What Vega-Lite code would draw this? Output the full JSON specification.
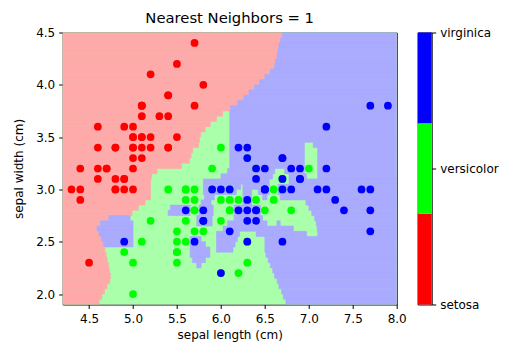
{
  "$schema": "https://vega.github.io/schema/vega-lite/v6.json",
  "padding": {"left": 11.7, "top": 10.5, "right": 5, "bottom": 5},
  "background": "white",
  "bounds": "flush",
  "spacing": 21,
  "config": {
    "font": "DejaVu Sans",
    "view": {"stroke": "#000000", "strokeWidth": 1},
    "axis": {"domain": false, "grid": false, "tickColor": "#000000", "tickSize": 4, "tickWidth": 1,
      "labelFont": "DejaVu Sans", "labelFontSize": 12, "labelColor": "#000000", "labelPadding": 4,
      "labelFlush": false, "labelOverlap": false,
      "titleFont": "DejaVu Sans", "titleFontSize": 12, "titleFontWeight": "normal", "titleColor": "#000000"},
    "title": {"font": "DejaVu Sans", "fontSize": 14.8, "fontWeight": "normal", "color": "#000000"}
  },
  "datasets": {
    "regions": [
      {"x1": 4.2, "x2": 8.0, "y1": 1.9, "y2": 4.5, "cls": "versicolor"},
      {"x1": 4.2, "x2": 6.70, "y1": 4.45, "y2": 4.50, "cls": "setosa"},
      {"x1": 6.70, "x2": 8.0, "y1": 4.45, "y2": 4.50, "cls": "virginica"},
      {"x1": 4.2, "x2": 6.68, "y1": 4.40, "y2": 4.45, "cls": "setosa"},
      {"x1": 6.68, "x2": 8.0, "y1": 4.40, "y2": 4.45, "cls": "virginica"},
      {"x1": 4.2, "x2": 6.66, "y1": 4.35, "y2": 4.40, "cls": "setosa"},
      {"x1": 6.66, "x2": 8.0, "y1": 4.35, "y2": 4.40, "cls": "virginica"},
      {"x1": 4.2, "x2": 6.65, "y1": 4.30, "y2": 4.35, "cls": "setosa"},
      {"x1": 6.65, "x2": 8.0, "y1": 4.30, "y2": 4.35, "cls": "virginica"},
      {"x1": 4.2, "x2": 6.64, "y1": 4.25, "y2": 4.30, "cls": "setosa"},
      {"x1": 6.64, "x2": 8.0, "y1": 4.25, "y2": 4.30, "cls": "virginica"},
      {"x1": 4.2, "x2": 6.62, "y1": 4.20, "y2": 4.25, "cls": "setosa"},
      {"x1": 6.62, "x2": 8.0, "y1": 4.20, "y2": 4.25, "cls": "virginica"},
      {"x1": 4.2, "x2": 6.61, "y1": 4.15, "y2": 4.20, "cls": "setosa"},
      {"x1": 6.61, "x2": 8.0, "y1": 4.15, "y2": 4.20, "cls": "virginica"},
      {"x1": 4.2, "x2": 6.56, "y1": 4.10, "y2": 4.15, "cls": "setosa"},
      {"x1": 6.56, "x2": 8.0, "y1": 4.10, "y2": 4.15, "cls": "virginica"},
      {"x1": 4.2, "x2": 6.50, "y1": 4.05, "y2": 4.10, "cls": "setosa"},
      {"x1": 6.50, "x2": 8.0, "y1": 4.05, "y2": 4.10, "cls": "virginica"},
      {"x1": 4.2, "x2": 6.44, "y1": 4.00, "y2": 4.05, "cls": "setosa"},
      {"x1": 6.44, "x2": 8.0, "y1": 4.00, "y2": 4.05, "cls": "virginica"},
      {"x1": 4.2, "x2": 6.38, "y1": 3.95, "y2": 4.00, "cls": "setosa"},
      {"x1": 6.38, "x2": 8.0, "y1": 3.95, "y2": 4.00, "cls": "virginica"},
      {"x1": 4.2, "x2": 6.32, "y1": 3.90, "y2": 3.95, "cls": "setosa"},
      {"x1": 6.32, "x2": 8.0, "y1": 3.90, "y2": 3.95, "cls": "virginica"},
      {"x1": 4.2, "x2": 6.26, "y1": 3.85, "y2": 3.90, "cls": "setosa"},
      {"x1": 6.26, "x2": 8.0, "y1": 3.85, "y2": 3.90, "cls": "virginica"},
      {"x1": 4.2, "x2": 6.19, "y1": 3.80, "y2": 3.85, "cls": "setosa"},
      {"x1": 6.19, "x2": 8.0, "y1": 3.80, "y2": 3.85, "cls": "virginica"},
      {"x1": 4.2, "x2": 6.11, "y1": 3.75, "y2": 3.80, "cls": "setosa"},
      {"x1": 6.11, "x2": 8.0, "y1": 3.75, "y2": 3.80, "cls": "virginica"},
      {"x1": 4.2, "x2": 6.02, "y1": 3.70, "y2": 3.75, "cls": "setosa"},
      {"x1": 4.2, "x2": 5.95, "y1": 3.65, "y2": 3.70, "cls": "setosa"},
      {"x1": 4.2, "x2": 5.88, "y1": 3.60, "y2": 3.65, "cls": "setosa"},
      {"x1": 4.2, "x2": 5.82, "y1": 3.55, "y2": 3.60, "cls": "setosa"},
      {"x1": 4.2, "x2": 5.77, "y1": 3.50, "y2": 3.55, "cls": "setosa"},
      {"x1": 4.2, "x2": 5.755, "y1": 3.45, "y2": 3.50, "cls": "setosa"},
      {"x1": 6.10, "x2": 8.0, "y1": 3.45, "y2": 3.75, "cls": "virginica"},
      {"x1": 4.2, "x2": 5.745, "y1": 3.40, "y2": 3.45, "cls": "setosa"},
      {"x1": 4.2, "x2": 5.68, "y1": 3.35, "y2": 3.40, "cls": "setosa"},
      {"x1": 4.2, "x2": 5.66, "y1": 3.30, "y2": 3.35, "cls": "setosa"},
      {"x1": 4.2, "x2": 5.64, "y1": 3.25, "y2": 3.30, "cls": "setosa"},
      {"x1": 4.2, "x2": 5.55, "y1": 3.20, "y2": 3.25, "cls": "setosa"},
      {"x1": 6.10, "x2": 6.95, "y1": 3.20, "y2": 3.45, "cls": "virginica"},
      {"x1": 7.05, "x2": 8.0, "y1": 3.40, "y2": 3.45, "cls": "virginica"},
      {"x1": 7.10, "x2": 8.0, "y1": 3.10, "y2": 3.40, "cls": "virginica"},
      {"x1": 4.2, "x2": 5.275, "y1": 3.15, "y2": 3.20, "cls": "setosa"},
      {"x1": 6.075, "x2": 6.6125, "y1": 3.15, "y2": 3.20, "cls": "virginica"},
      {"x1": 6.725, "x2": 6.95, "y1": 3.15, "y2": 3.20, "cls": "virginica"},
      {"x1": 4.2, "x2": 5.21, "y1": 3.10, "y2": 3.15, "cls": "setosa"},
      {"x1": 6.0, "x2": 6.5875, "y1": 3.10, "y2": 3.15, "cls": "virginica"},
      {"x1": 6.775, "x2": 6.975, "y1": 3.10, "y2": 3.15, "cls": "virginica"},
      {"x1": 4.2, "x2": 5.2, "y1": 2.90, "y2": 3.10, "cls": "setosa"},
      {"x1": 5.8, "x2": 6.55, "y1": 3.05, "y2": 3.10, "cls": "virginica"},
      {"x1": 6.775, "x2": 8.0, "y1": 3.05, "y2": 3.10, "cls": "virginica"},
      {"x1": 5.8, "x2": 6.225, "y1": 3.00, "y2": 3.05, "cls": "virginica"},
      {"x1": 6.25, "x2": 6.55, "y1": 3.00, "y2": 3.05, "cls": "virginica"},
      {"x1": 6.65, "x2": 8.0, "y1": 2.95, "y2": 3.05, "cls": "virginica"},
      {"x1": 5.8, "x2": 6.175, "y1": 2.95, "y2": 3.00, "cls": "virginica"},
      {"x1": 6.25, "x2": 6.35, "y1": 2.85, "y2": 3.00, "cls": "virginica"},
      {"x1": 6.425, "x2": 6.55, "y1": 2.95, "y2": 3.00, "cls": "virginica"},
      {"x1": 5.8125, "x2": 5.925, "y1": 2.90, "y2": 2.95, "cls": "virginica"},
      {"x1": 6.475, "x2": 6.525, "y1": 2.90, "y2": 2.95, "cls": "virginica"},
      {"x1": 6.675, "x2": 8.0, "y1": 2.90, "y2": 2.95, "cls": "virginica"},
      {"x1": 4.2, "x2": 5.1375, "y1": 2.85, "y2": 2.90, "cls": "setosa"},
      {"x1": 5.775, "x2": 5.8875, "y1": 2.85, "y2": 2.90, "cls": "virginica"},
      {"x1": 6.967, "x2": 8.0, "y1": 2.85, "y2": 2.90, "cls": "virginica"},
      {"x1": 4.2, "x2": 5.06, "y1": 2.80, "y2": 2.85, "cls": "setosa"},
      {"x1": 5.425, "x2": 5.65, "y1": 2.80, "y2": 2.85, "cls": "virginica"},
      {"x1": 7.0, "x2": 8.0, "y1": 2.80, "y2": 2.85, "cls": "virginica"},
      {"x1": 5.75, "x2": 5.9125, "y1": 2.75, "y2": 2.85, "cls": "virginica"},
      {"x1": 6.15, "x2": 6.45, "y1": 2.75, "y2": 2.85, "cls": "virginica"},
      {"x1": 4.2, "x2": 4.99, "y1": 2.75, "y2": 2.80, "cls": "setosa"},
      {"x1": 5.40, "x2": 5.65, "y1": 2.75, "y2": 2.80, "cls": "virginica"},
      {"x1": 7.033, "x2": 8.0, "y1": 2.75, "y2": 2.80, "cls": "virginica"},
      {"x1": 4.2, "x2": 4.725, "y1": 2.70, "y2": 2.75, "cls": "setosa"},
      {"x1": 4.725, "x2": 4.967, "y1": 2.70, "y2": 2.75, "cls": "virginica"},
      {"x1": 5.725, "x2": 5.9, "y1": 2.65, "y2": 2.75, "cls": "virginica"},
      {"x1": 6.15, "x2": 6.475, "y1": 2.70, "y2": 2.75, "cls": "virginica"},
      {"x1": 7.067, "x2": 8.0, "y1": 2.70, "y2": 2.75, "cls": "virginica"},
      {"x1": 4.2, "x2": 4.63, "y1": 2.65, "y2": 2.70, "cls": "setosa"},
      {"x1": 4.63, "x2": 5.0, "y1": 2.65, "y2": 2.70, "cls": "virginica"},
      {"x1": 6.075, "x2": 6.525, "y1": 2.65, "y2": 2.70, "cls": "virginica"},
      {"x1": 6.6375, "x2": 6.675, "y1": 2.65, "y2": 2.70, "cls": "virginica"},
      {"x1": 7.085, "x2": 8.0, "y1": 2.65, "y2": 2.70, "cls": "virginica"},
      {"x1": 4.2, "x2": 4.59, "y1": 2.60, "y2": 2.65, "cls": "setosa"},
      {"x1": 4.59, "x2": 5.0, "y1": 2.60, "y2": 2.65, "cls": "virginica"},
      {"x1": 6.025, "x2": 6.825, "y1": 2.60, "y2": 2.65, "cls": "virginica"},
      {"x1": 7.095, "x2": 8.0, "y1": 2.60, "y2": 2.65, "cls": "virginica"},
      {"x1": 4.2, "x2": 4.6125, "y1": 2.55, "y2": 2.60, "cls": "setosa"},
      {"x1": 4.6125, "x2": 5.0, "y1": 2.55, "y2": 2.60, "cls": "virginica"},
      {"x1": 5.95, "x2": 6.2125, "y1": 2.55, "y2": 2.60, "cls": "virginica"},
      {"x1": 6.40, "x2": 6.975, "y1": 2.55, "y2": 2.60, "cls": "virginica"},
      {"x1": 7.10, "x2": 8.0, "y1": 2.55, "y2": 2.60, "cls": "virginica"},
      {"x1": 4.2, "x2": 4.6375, "y1": 2.50, "y2": 2.55, "cls": "setosa"},
      {"x1": 4.6375, "x2": 5.0, "y1": 2.50, "y2": 2.55, "cls": "virginica"},
      {"x1": 5.65, "x2": 5.775, "y1": 2.50, "y2": 2.55, "cls": "virginica"},
      {"x1": 5.95, "x2": 6.1875, "y1": 2.50, "y2": 2.55, "cls": "virginica"},
      {"x1": 6.5, "x2": 8.0, "y1": 2.40, "y2": 2.55, "cls": "virginica"},
      {"x1": 4.2, "x2": 4.6625, "y1": 2.45, "y2": 2.50, "cls": "setosa"},
      {"x1": 4.6625, "x2": 5.0, "y1": 2.45, "y2": 2.50, "cls": "virginica"},
      {"x1": 5.65, "x2": 5.825, "y1": 2.45, "y2": 2.50, "cls": "virginica"},
      {"x1": 5.95, "x2": 6.1625, "y1": 2.45, "y2": 2.50, "cls": "virginica"},
      {"x1": 4.2, "x2": 4.68, "y1": 2.40, "y2": 2.45, "cls": "setosa"},
      {"x1": 5.95, "x2": 6.1375, "y1": 2.40, "y2": 2.45, "cls": "virginica"},
      {"x1": 5.65, "x2": 5.875, "y1": 2.35, "y2": 2.45, "cls": "virginica"},
      {"x1": 4.2, "x2": 4.694, "y1": 2.35, "y2": 2.40, "cls": "setosa"},
      {"x1": 6.5125, "x2": 8.0, "y1": 2.35, "y2": 2.40, "cls": "virginica"},
      {"x1": 4.2, "x2": 4.706, "y1": 2.30, "y2": 2.35, "cls": "setosa"},
      {"x1": 5.675, "x2": 5.825, "y1": 2.30, "y2": 2.35, "cls": "virginica"},
      {"x1": 6.5375, "x2": 8.0, "y1": 2.30, "y2": 2.35, "cls": "virginica"},
      {"x1": 4.2, "x2": 4.72, "y1": 2.25, "y2": 2.30, "cls": "setosa"},
      {"x1": 5.725, "x2": 5.775, "y1": 2.25, "y2": 2.30, "cls": "virginica"},
      {"x1": 6.5625, "x2": 8.0, "y1": 2.25, "y2": 2.30, "cls": "virginica"},
      {"x1": 4.2, "x2": 4.73, "y1": 2.20, "y2": 2.25, "cls": "setosa"},
      {"x1": 6.59, "x2": 8.0, "y1": 2.20, "y2": 2.25, "cls": "virginica"},
      {"x1": 4.2, "x2": 4.744, "y1": 2.15, "y2": 2.20, "cls": "setosa"},
      {"x1": 6.61, "x2": 8.0, "y1": 2.15, "y2": 2.20, "cls": "virginica"},
      {"x1": 4.2, "x2": 4.735, "y1": 2.10, "y2": 2.15, "cls": "setosa"},
      {"x1": 6.64, "x2": 8.0, "y1": 2.10, "y2": 2.15, "cls": "virginica"},
      {"x1": 4.2, "x2": 4.705, "y1": 2.05, "y2": 2.10, "cls": "setosa"},
      {"x1": 6.66, "x2": 8.0, "y1": 2.05, "y2": 2.10, "cls": "virginica"},
      {"x1": 4.2, "x2": 4.675, "y1": 2.00, "y2": 2.05, "cls": "setosa"},
      {"x1": 6.69, "x2": 8.0, "y1": 2.00, "y2": 2.05, "cls": "virginica"},
      {"x1": 4.2, "x2": 4.645, "y1": 1.95, "y2": 2.00, "cls": "setosa"},
      {"x1": 6.71, "x2": 8.0, "y1": 1.95, "y2": 2.00, "cls": "virginica"},
      {"x1": 4.2, "x2": 4.615, "y1": 1.90, "y2": 1.95, "cls": "setosa"},
      {"x1": 6.74, "x2": 8.0, "y1": 1.90, "y2": 1.95, "cls": "virginica"}
    ],
    "iris": [
      {"sl": 5.1, "sw": 3.5, "cls": "setosa"}, {"sl": 4.9, "sw": 3.0, "cls": "setosa"}, {"sl": 4.7, "sw": 3.2, "cls": "setosa"}, {"sl": 4.6, "sw": 3.1, "cls": "setosa"}, {"sl": 5.0, "sw": 3.6, "cls": "setosa"},
      {"sl": 5.4, "sw": 3.9, "cls": "setosa"}, {"sl": 4.6, "sw": 3.4, "cls": "setosa"}, {"sl": 5.0, "sw": 3.4, "cls": "setosa"}, {"sl": 4.4, "sw": 2.9, "cls": "setosa"}, {"sl": 4.9, "sw": 3.1, "cls": "setosa"},
      {"sl": 5.4, "sw": 3.7, "cls": "setosa"}, {"sl": 4.8, "sw": 3.4, "cls": "setosa"}, {"sl": 4.8, "sw": 3.0, "cls": "setosa"}, {"sl": 4.3, "sw": 3.0, "cls": "setosa"}, {"sl": 5.8, "sw": 4.0, "cls": "setosa"},
      {"sl": 5.7, "sw": 4.4, "cls": "setosa"}, {"sl": 5.4, "sw": 3.9, "cls": "setosa"}, {"sl": 5.1, "sw": 3.5, "cls": "setosa"}, {"sl": 5.7, "sw": 3.8, "cls": "setosa"}, {"sl": 5.1, "sw": 3.8, "cls": "setosa"},
      {"sl": 5.4, "sw": 3.4, "cls": "setosa"}, {"sl": 5.1, "sw": 3.7, "cls": "setosa"}, {"sl": 4.6, "sw": 3.6, "cls": "setosa"}, {"sl": 5.1, "sw": 3.3, "cls": "setosa"}, {"sl": 4.8, "sw": 3.4, "cls": "setosa"},
      {"sl": 5.0, "sw": 3.0, "cls": "setosa"}, {"sl": 5.0, "sw": 3.4, "cls": "setosa"}, {"sl": 5.2, "sw": 3.5, "cls": "setosa"}, {"sl": 5.2, "sw": 3.4, "cls": "setosa"}, {"sl": 4.7, "sw": 3.2, "cls": "setosa"},
      {"sl": 4.8, "sw": 3.1, "cls": "setosa"}, {"sl": 5.4, "sw": 3.4, "cls": "setosa"}, {"sl": 5.2, "sw": 4.1, "cls": "setosa"}, {"sl": 5.5, "sw": 4.2, "cls": "setosa"}, {"sl": 4.9, "sw": 3.1, "cls": "setosa"},
      {"sl": 5.0, "sw": 3.2, "cls": "setosa"}, {"sl": 5.5, "sw": 3.5, "cls": "setosa"}, {"sl": 4.9, "sw": 3.6, "cls": "setosa"}, {"sl": 4.4, "sw": 3.0, "cls": "setosa"}, {"sl": 5.1, "sw": 3.4, "cls": "setosa"},
      {"sl": 5.0, "sw": 3.5, "cls": "setosa"}, {"sl": 4.5, "sw": 2.3, "cls": "setosa"}, {"sl": 4.4, "sw": 3.2, "cls": "setosa"}, {"sl": 5.0, "sw": 3.5, "cls": "setosa"}, {"sl": 5.1, "sw": 3.8, "cls": "setosa"},
      {"sl": 4.8, "sw": 3.0, "cls": "setosa"}, {"sl": 5.1, "sw": 3.8, "cls": "setosa"}, {"sl": 4.6, "sw": 3.2, "cls": "setosa"}, {"sl": 5.3, "sw": 3.7, "cls": "setosa"}, {"sl": 5.0, "sw": 3.3, "cls": "setosa"},
      {"sl": 7.0, "sw": 3.2, "cls": "versicolor"}, {"sl": 6.4, "sw": 3.2, "cls": "versicolor"}, {"sl": 6.9, "sw": 3.1, "cls": "versicolor"}, {"sl": 5.5, "sw": 2.3, "cls": "versicolor"}, {"sl": 6.5, "sw": 2.8, "cls": "versicolor"},
      {"sl": 5.7, "sw": 2.8, "cls": "versicolor"}, {"sl": 6.3, "sw": 3.3, "cls": "versicolor"}, {"sl": 4.9, "sw": 2.4, "cls": "versicolor"}, {"sl": 6.6, "sw": 2.9, "cls": "versicolor"}, {"sl": 5.2, "sw": 2.7, "cls": "versicolor"},
      {"sl": 5.0, "sw": 2.0, "cls": "versicolor"}, {"sl": 5.9, "sw": 3.0, "cls": "versicolor"}, {"sl": 6.0, "sw": 2.2, "cls": "versicolor"}, {"sl": 6.1, "sw": 2.9, "cls": "versicolor"}, {"sl": 5.6, "sw": 2.9, "cls": "versicolor"},
      {"sl": 6.7, "sw": 3.1, "cls": "versicolor"}, {"sl": 5.6, "sw": 3.0, "cls": "versicolor"}, {"sl": 5.8, "sw": 2.7, "cls": "versicolor"}, {"sl": 6.2, "sw": 2.2, "cls": "versicolor"}, {"sl": 5.6, "sw": 2.5, "cls": "versicolor"},
      {"sl": 5.9, "sw": 3.2, "cls": "versicolor"}, {"sl": 6.1, "sw": 2.8, "cls": "versicolor"}, {"sl": 6.3, "sw": 2.5, "cls": "versicolor"}, {"sl": 6.1, "sw": 2.8, "cls": "versicolor"}, {"sl": 6.4, "sw": 2.9, "cls": "versicolor"},
      {"sl": 6.6, "sw": 3.0, "cls": "versicolor"}, {"sl": 6.8, "sw": 2.8, "cls": "versicolor"}, {"sl": 6.7, "sw": 3.0, "cls": "versicolor"}, {"sl": 6.0, "sw": 2.9, "cls": "versicolor"}, {"sl": 5.7, "sw": 2.6, "cls": "versicolor"},
      {"sl": 5.5, "sw": 2.4, "cls": "versicolor"}, {"sl": 5.5, "sw": 2.4, "cls": "versicolor"}, {"sl": 5.8, "sw": 2.7, "cls": "versicolor"}, {"sl": 6.0, "sw": 2.7, "cls": "versicolor"}, {"sl": 5.4, "sw": 3.0, "cls": "versicolor"},
      {"sl": 6.0, "sw": 3.4, "cls": "versicolor"}, {"sl": 6.7, "sw": 3.1, "cls": "versicolor"}, {"sl": 6.3, "sw": 2.3, "cls": "versicolor"}, {"sl": 5.6, "sw": 3.0, "cls": "versicolor"}, {"sl": 5.5, "sw": 2.5, "cls": "versicolor"},
      {"sl": 5.5, "sw": 2.6, "cls": "versicolor"}, {"sl": 6.1, "sw": 3.0, "cls": "versicolor"}, {"sl": 5.8, "sw": 2.6, "cls": "versicolor"}, {"sl": 5.0, "sw": 2.3, "cls": "versicolor"}, {"sl": 5.6, "sw": 2.7, "cls": "versicolor"},
      {"sl": 5.7, "sw": 3.0, "cls": "versicolor"}, {"sl": 5.7, "sw": 2.9, "cls": "versicolor"}, {"sl": 6.2, "sw": 2.9, "cls": "versicolor"}, {"sl": 5.1, "sw": 2.5, "cls": "versicolor"}, {"sl": 5.7, "sw": 2.8, "cls": "versicolor"},
      {"sl": 6.3, "sw": 3.3, "cls": "virginica"}, {"sl": 5.8, "sw": 2.7, "cls": "virginica"}, {"sl": 7.1, "sw": 3.0, "cls": "virginica"}, {"sl": 6.3, "sw": 2.9, "cls": "virginica"}, {"sl": 6.5, "sw": 3.0, "cls": "virginica"},
      {"sl": 7.6, "sw": 3.0, "cls": "virginica"}, {"sl": 4.9, "sw": 2.5, "cls": "virginica"}, {"sl": 7.3, "sw": 2.9, "cls": "virginica"}, {"sl": 6.7, "sw": 2.5, "cls": "virginica"}, {"sl": 7.2, "sw": 3.6, "cls": "virginica"},
      {"sl": 6.5, "sw": 3.2, "cls": "virginica"}, {"sl": 6.4, "sw": 2.7, "cls": "virginica"}, {"sl": 6.8, "sw": 3.0, "cls": "virginica"}, {"sl": 5.7, "sw": 2.5, "cls": "virginica"}, {"sl": 5.8, "sw": 2.8, "cls": "virginica"},
      {"sl": 6.4, "sw": 3.2, "cls": "virginica"}, {"sl": 6.5, "sw": 3.0, "cls": "virginica"}, {"sl": 7.7, "sw": 3.8, "cls": "virginica"}, {"sl": 7.7, "sw": 2.6, "cls": "virginica"}, {"sl": 6.0, "sw": 2.2, "cls": "virginica"},
      {"sl": 6.9, "sw": 3.2, "cls": "virginica"}, {"sl": 5.6, "sw": 2.8, "cls": "virginica"}, {"sl": 7.7, "sw": 2.8, "cls": "virginica"}, {"sl": 6.3, "sw": 2.7, "cls": "virginica"}, {"sl": 6.7, "sw": 3.3, "cls": "virginica"},
      {"sl": 7.2, "sw": 3.2, "cls": "virginica"}, {"sl": 6.2, "sw": 2.8, "cls": "virginica"}, {"sl": 6.1, "sw": 3.0, "cls": "virginica"}, {"sl": 6.4, "sw": 2.8, "cls": "virginica"}, {"sl": 7.2, "sw": 3.0, "cls": "virginica"},
      {"sl": 7.4, "sw": 2.8, "cls": "virginica"}, {"sl": 7.9, "sw": 3.8, "cls": "virginica"}, {"sl": 6.4, "sw": 2.8, "cls": "virginica"}, {"sl": 6.3, "sw": 2.8, "cls": "virginica"}, {"sl": 6.1, "sw": 2.6, "cls": "virginica"},
      {"sl": 7.7, "sw": 3.0, "cls": "virginica"}, {"sl": 6.3, "sw": 3.4, "cls": "virginica"}, {"sl": 6.4, "sw": 3.1, "cls": "virginica"}, {"sl": 6.0, "sw": 3.0, "cls": "virginica"}, {"sl": 6.9, "sw": 3.1, "cls": "virginica"},
      {"sl": 6.7, "sw": 3.1, "cls": "virginica"}, {"sl": 6.9, "sw": 3.1, "cls": "virginica"}, {"sl": 5.8, "sw": 2.7, "cls": "virginica"}, {"sl": 6.8, "sw": 3.2, "cls": "virginica"}, {"sl": 6.7, "sw": 3.3, "cls": "virginica"},
      {"sl": 6.7, "sw": 3.0, "cls": "virginica"}, {"sl": 6.3, "sw": 2.5, "cls": "virginica"}, {"sl": 6.5, "sw": 3.0, "cls": "virginica"}, {"sl": 6.2, "sw": 3.4, "cls": "virginica"}, {"sl": 5.9, "sw": 3.0, "cls": "virginica"}
    ],
    "cbar": [
      {"cls": "setosa", "c0": 0, "c1": 0.6667},
      {"cls": "versicolor", "c0": 0.6667, "c1": 1.3333},
      {"cls": "virginica", "c0": 1.3333, "c1": 2}
    ]
  },
  "hconcat": [
    {
      "width": 334,
      "height": 272,
      "title": {"text": "Nearest Neighbors = 1", "anchor": "middle", "frame": "group", "offset": -11.5, "baseline": "alphabetic"},
      "layer": [
        {
          "data": {"name": "regions"},
          "mark": {"type": "rect", "strokeWidth": 0.6, "clip": true},
          "encoding": {
            "x": {"field": "x1", "type": "quantitative", "title": "sepal length (cm)",
              "scale": {"domain": [4.2, 8.0], "nice": false, "zero": false},
              "axis": {"values": [4.5, 5.0, 5.5, 6.0, 6.5, 7.0, 7.5, 8.0], "format": ".1f", "labelPadding": 5, "titlePadding": 5}},
            "x2": {"field": "x2"},
            "y": {"field": "y1", "type": "quantitative", "title": "sepal width (cm)",
              "scale": {"domain": [1.9, 4.5], "nice": false, "zero": false},
              "axis": {"values": [2.0, 2.5, 3.0, 3.5, 4.0, 4.5], "format": ".1f", "titlePadding": 10}},
            "y2": {"field": "y2"},
            "fill": {"field": "cls", "type": "nominal", "legend": null,
              "scale": {"domain": ["setosa", "versicolor", "virginica"], "range": ["#FFAAAA", "#AAFFAA", "#AAAAFF"]}},
            "stroke": {"field": "cls", "type": "nominal", "legend": null,
              "scale": {"domain": ["setosa", "versicolor", "virginica"], "range": ["#FFAAAA", "#AAFFAA", "#AAAAFF"]}}
          }
        },
        {
          "data": {"name": "iris"},
          "mark": {"type": "circle", "size": 60, "opacity": 1},
          "encoding": {
            "x": {"field": "sl", "type": "quantitative", "title": "sepal length (cm)"},
            "y": {"field": "sw", "type": "quantitative", "title": "sepal width (cm)"},
            "color": {"field": "cls", "type": "nominal", "legend": null,
              "scale": {"domain": ["setosa", "versicolor", "virginica"], "range": ["#FF0000", "#00FF00", "#0000FF"]}}
          }
        }
      ]
    },
    {
      "width": 14,
      "height": 272,
      "data": {"name": "cbar"},
      "mark": "rect",
      "encoding": {
        "y": {"field": "c0", "type": "quantitative",
          "scale": {"domain": [0, 2], "nice": false, "zero": false},
          "axis": {"orient": "right", "values": [0, 1, 2], "title": null,
            "labelExpr": "datum.value == 0 ? 'setosa' : (datum.value == 1 ? 'versicolor' : 'virginica')"}},
        "y2": {"field": "c1"},
        "color": {"field": "cls", "type": "nominal", "legend": null,
          "scale": {"domain": ["setosa", "versicolor", "virginica"], "range": ["#FF0000", "#00FF00", "#0000FF"]}}
      }
    }
  ]
}
